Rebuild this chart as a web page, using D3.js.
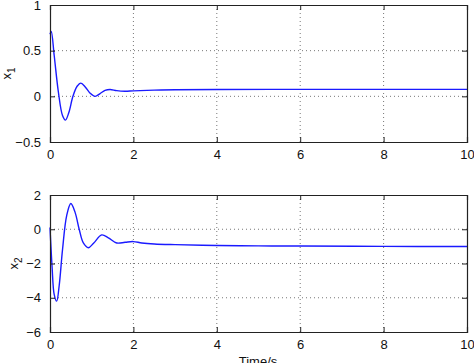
<!DOCTYPE html>
<html>
<head>
<meta charset="utf-8">
<script src="https://cdn.jsdelivr.net/npm/d3@7"></script>
<style>
  html, body { margin: 0; padding: 0; background: #fff; }
  svg { display: block; }
  text { font-family: "Liberation Sans", Arial, sans-serif; fill: #111; }
</style>
</head>
<body>
<div id="chart"></div>
<script>
// ---- data ----
const t1 = [0, 0.03, 0.1, 0.2, 0.3, 0.37, 0.45, 0.55, 0.65, 0.74, 0.85, 0.95, 1.08, 1.2, 1.32, 1.44, 1.6, 1.8, 2.0, 2.5, 3, 4, 6, 8, 10];
const x1 = [0.68, 0.71, 0.45, 0.05, -0.21, -0.26, -0.18, 0.0, 0.11, 0.145, 0.10, 0.04, 0.0, 0.03, 0.065, 0.075, 0.062, 0.056, 0.06, 0.068, 0.072, 0.075, 0.076, 0.076, 0.076];

const t2 = [0, 0.05, 0.1, 0.16, 0.22, 0.3, 0.4, 0.5, 0.6, 0.7, 0.8, 0.92, 1.05, 1.24, 1.4, 1.6, 1.8, 2.0, 2.2, 2.5, 3, 4, 5, 6, 8, 10];
const x2 = [0.1, -2.2, -3.8, -4.2, -3.3, -1.2, 0.8, 1.5, 1.0, 0.0, -0.8, -1.08, -0.8, -0.33, -0.5, -0.8, -0.76, -0.72, -0.8, -0.86, -0.9, -0.95, -0.97, -0.98, -1.0, -1.01];

const xTicks = [0, 2, 4, 6, 8, 10];
const y1Ticks = [-0.5, 0, 0.5, 1];
const y2Ticks = [-6, -4, -2, 0, 2];

// ---- layout ----
const W = 474, H = 363;
const svg = d3.select("#chart").append("svg")
  .attr("width", W).attr("height", H);

function panel(cfg) {
  const x = d3.scaleLinear().domain([0, 10]).range([50, 467]);
  const y = d3.scaleLinear().domain(cfg.yDomain).range([cfg.bottom, cfg.top]);
  const g = svg.append("g");

  // grid (dotted)
  g.append("g").selectAll("line.gx")
    .data(xTicks.slice(1, -1)).join("line")
    .attr("x1", d => x(d)).attr("x2", d => x(d))
    .attr("y1", cfg.top).attr("y2", cfg.bottom)
    .attr("stroke", "#777").attr("stroke-width", 1)
    .attr("stroke-dasharray", "1,3");
  g.append("g").selectAll("line.gy")
    .data(cfg.yTicks.slice(1, -1)).join("line")
    .attr("x1", 50).attr("x2", 467)
    .attr("y1", d => y(d)).attr("y2", d => y(d))
    .attr("stroke", "#777").attr("stroke-width", 1)
    .attr("stroke-dasharray", "1,3");

  // line
  const line = d3.line()
    .x(d => x(d[0])).y(d => y(d[1]))
    .curve(d3.curveCatmullRom.alpha(0.5));
  g.append("path")
    .datum(cfg.t.map((tv, i) => [tv, cfg.v[i]]))
    .attr("fill", "none")
    .attr("stroke", "#1a1aff")
    .attr("stroke-width", 1.4)
    .attr("d", line);

  // axes: ticks inside, mirrored on top and right
  const tk = 5;
  const bottomAx = d3.axisBottom(x).tickValues(xTicks).tickSize(-tk).tickPadding(8);
  const topAx = d3.axisTop(x).tickValues(xTicks).tickSize(-tk).tickFormat("");
  const leftAx = d3.axisLeft(y).tickValues(cfg.yTicks).tickSize(-tk).tickPadding(9)
    .tickFormat(d3.format("~g"));
  const rightAx = d3.axisRight(y).tickValues(cfg.yTicks).tickSize(-tk).tickFormat("");

  const axes = [
    g.append("g").attr("transform", `translate(0,${cfg.bottom})`).call(bottomAx),
    g.append("g").attr("transform", `translate(0,${cfg.top})`).call(topAx),
    g.append("g").attr("transform", "translate(50,0)").call(leftAx),
    g.append("g").attr("transform", "translate(467,0)").call(rightAx)
  ];
  axes.forEach(a => {
    a.select(".domain").attr("stroke", "#222").attr("stroke-width", 1.2);
    a.selectAll(".tick line").attr("stroke", "#222");
    a.selectAll("text").attr("font-size", 13)
      .attr("font-family", "'Liberation Sans', Arial, sans-serif").attr("fill", "#111");
  });

  // y label with subscript
  const lab = svg.append("text")
    .attr("transform", `translate(${cfg.labX},${(cfg.top + cfg.bottom) / 2}) rotate(-90)`)
    .attr("text-anchor", "middle")
    .attr("font-size", 13);
  lab.append("tspan").text("x");
  lab.append("tspan").attr("font-size", 10).attr("dy", 4).text(cfg.sub);
}

panel({ top: 5, bottom: 142, yDomain: [-0.5, 1], yTicks: y1Ticks, t: t1, v: x1, labX: 11, sub: "1" });
panel({ top: 195, bottom: 332, yDomain: [-6, 2], yTicks: y2Ticks, t: t2, v: x2, labX: 18, sub: "2" });

svg.append("text")
  .attr("x", 258).attr("y", 366)
  .attr("text-anchor", "middle")
  .attr("font-size", 13)
  .text("Time/s");
</script>
</body>
</html>
